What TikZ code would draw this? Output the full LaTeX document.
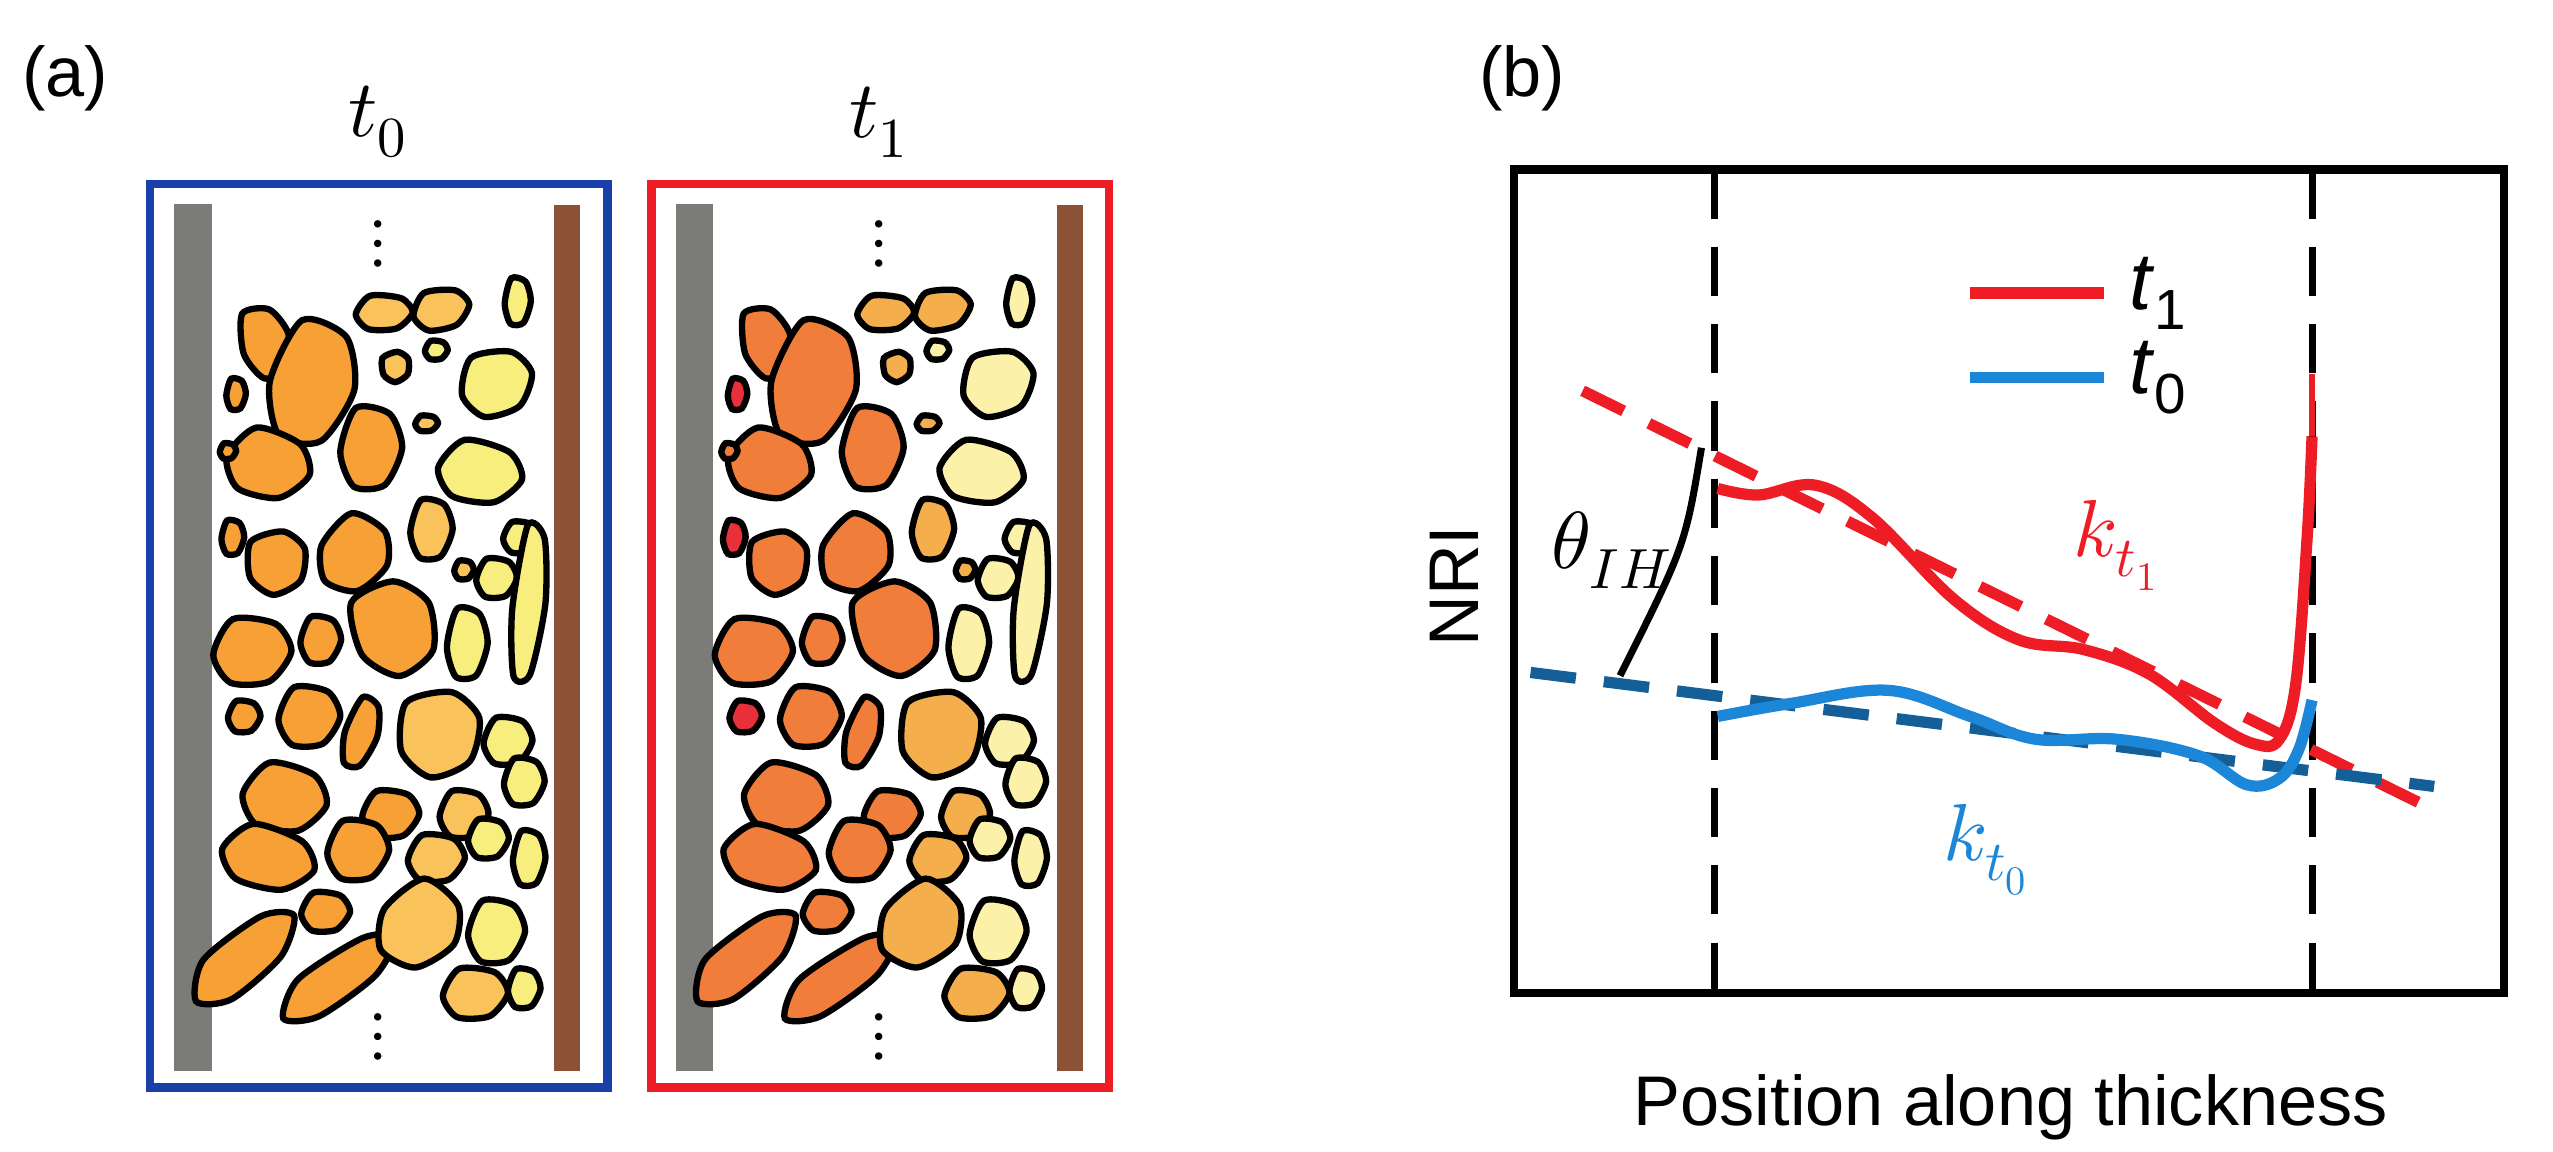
\documentclass[tikz,border=0pt]{standalone}
\usepackage{fontspec}
\setmainfont{Liberation Sans}
\usepackage{unicode-math}
\setmathfont{Latin Modern Math}
\definecolor{ob}{HTML}{F7A035}
\definecolor{ol}{HTML}{F9C25A}
\definecolor{yl}{HTML}{F7EE7E}
\definecolor{or}{HTML}{F07E3A}
\definecolor{om}{HTML}{F5AE4C}
\definecolor{yp}{HTML}{FBF1A8}
\definecolor{rd}{HTML}{E8303A}
\definecolor{gbar}{HTML}{7B7B78}
\definecolor{bbar}{HTML}{8B5236}
\definecolor{cred}{HTML}{EE1C25}
\definecolor{cblue}{HTML}{1C87D8}
\definecolor{dblue}{HTML}{1A3FA8}
\newcommand{\blob}[6]{\draw[line width=1.8pt,fill=#6,shift={(#1,#2)},rotate=#5] plot[smooth cycle,tension=0.45] coordinates {({0.5*#3},0) ({0.22*#3},{0.44*#4}) ({-0.28*#3},{0.46*#4}) ({-0.5*#3},{0.05*#4}) ({-0.25*#3},{-0.47*#4}) ({0.3*#3},{-0.4*#4})};}
\newcommand{\blobs}[5]{%
\blob{#1+163}{210}{30}{45}{20}{#2}
\blob{#1+192}{235}{52}{78}{-10}{#2}
\blob{#1+236}{192}{35}{22}{0}{#3}
\blob{#1+271}{190}{35}{25}{10}{#3}
\blob{#1+318}{185}{16}{30}{0}{#4}
\blob{#1+145}{242}{12}{20}{0}{#5}
\blob{#1+243}{225}{18}{18}{30}{#3}
\blob{#1+268}{215}{14}{12}{0}{#4}
\blob{#1+305}{235}{45}{40}{15}{#4}
\blob{#1+165}{285}{52}{42}{-15}{#2}
\blob{#1+228}{275}{38}{52}{0}{#2}
\blob{#1+295}{290}{52}{38}{-10}{#4}
\blob{#1+140}{277}{10}{10}{0}{#2}
\blob{#1+262}{260}{14}{10}{0}{#3}
\blob{#1+320}{330}{22}{20}{0}{#4}
\blob{#1+170}{345}{38}{38}{25}{#2}
\blob{#1+218}{340}{42}{48}{-20}{#2}
\blob{#1+265}{325}{26}{38}{0}{#3}
\blob{#1+305}{355}{25}{25}{0}{#4}
\blob{#1+143}{330}{14}{22}{0}{#5}
\blob{#1+155}{400}{48}{42}{0}{#2}
\blob{#1+197}{393}{25}{30}{0}{#2}
\blob{#1+242}{385}{52}{58}{35}{#2}
\blob{#1+287}{395}{25}{45}{0}{#4}
\blob{#1+325}{370}{20}{100}{-5}{#4}
\blob{#1+285}{350}{12}{12}{0}{#3}
\blob{#1+150}{440}{20}{20}{0}{#5}
\blob{#1+190}{440}{38}{38}{0}{#2}
\blob{#1+222}{450}{20}{45}{-15}{#2}
\blob{#1+270}{450}{52}{52}{20}{#3}
\blob{#1+312}{455}{30}{30}{0}{#4}
\blob{#1+175}{490}{52}{42}{-10}{#2}
\blob{#1+240}{500}{35}{30}{0}{#2}
\blob{#1+285}{500}{30}{30}{0}{#3}
\blob{#1+322}{480}{25}{30}{0}{#4}
\blob{#1+165}{527}{58}{38}{-15}{#2}
\blob{#1+220}{522}{38}{38}{0}{#2}
\blob{#1+268}{527}{35}{30}{0}{#3}
\blob{#1+300}{515}{25}{25}{0}{#4}
\blob{#1+325}{527}{20}{35}{0}{#4}
\blob{#1+150}{588}{80}{32}{40}{#2}
\blob{#1+200}{560}{30}{25}{0}{#2}
\blob{#1+208}{600}{85}{28}{35}{#2}
\blob{#1+258}{568}{48}{55}{-30}{#3}
\blob{#1+305}{572}{35}{40}{0}{#4}
\blob{#1+292}{610}{40}{32}{0}{#3}
\blob{#1+322}{607}{20}{25}{0}{#4}}
\begin{document}
\begin{tikzpicture}[x=0.01628cm,y=-0.01628cm,font=\fontsize{20}{24}\selectfont]
\useasboundingbox (0,0) rectangle (1568,707);
% panel a
\node (la) at (40,48) {(a)};
\node (t0) at (232,75) {\fontsize{23}{26}\selectfont$t_0$};
\node (t1) at (540,75) {\fontsize{23}{26}\selectfont$t_1$};
\draw[dblue,line width=2.4pt] (92,113) rectangle (373,668);
\draw[cred,line width=2.4pt] (400,113) rectangle (681,668);
\fill[gbar] (107,125) rectangle (130,658);
\fill[bbar] (340,126) rectangle (356,658);
\fill[gbar] (415,125) rectangle (438,658);
\fill[bbar] (649,126) rectangle (665,658);
\foreach \x in {232,540}{\node at (\x,150) {$\vdots$};\node at (\x,637) {$\vdots$};}
\blobs{0}{ob}{ol}{yl}{ob}
\blobs{308}{or}{om}{yp}{rd}
% panel b
\node (lb) at (935,48) {(b)};
\draw[line width=2.4pt] (930,104) rectangle (1538,610);
\draw[line width=2pt,dash pattern=on 14pt off 8pt] (1053,104) -- (1053,610) (1420,104) -- (1420,610);
\node[rotate=90] (nri) at (893,360) {NRI};
\node (pos) at (1235,680) {Position along thickness};
\draw[cred,line width=3.2pt] (1210,180) -- (1292,180);
\node[anchor=west] at (1300,180) {\fontsize{23}{26}\selectfont\textit{t}\textsubscript{1}};
\draw[cblue,line width=3.2pt] (1210,232) -- (1292,232);
\node[anchor=west] at (1300,232) {\fontsize{23}{26}\selectfont\textit{t}\textsubscript{0}};
\draw[cred,line width=3.2pt,dash pattern=on 13pt off 8pt] (972,240) -- (1500,500);
\draw[cblue!70!black,line width=3.2pt,dash pattern=on 13pt off 8pt] (940,413) -- (1495,483);
\draw[cred,line width=3.2pt] plot[smooth,tension=0.6] coordinates {(1055,300) (1080,304) (1115,298) (1150,318) (1200,368) (1240,393) (1280,399) (1320,414) (1360,444) (1385,457) (1400,454) (1410,420) (1417,330) (1420,268)};
\draw[cred,line width=1.5pt] (1420,268) -- (1420,230);
\draw[cblue,line width=3.2pt] plot[smooth,tension=0.6] coordinates {(1055,440) (1100,432) (1160,424) (1210,440) (1250,454) (1300,454) (1350,464) (1380,482) (1400,478) (1412,460) (1420,430)};
\node[cred] (kt1) at (1300,335) {\fontsize{23}{26}\selectfont$k_{t_1}$};
\node[cblue] (kt0) at (1220,522) {\fontsize{23}{26}\selectfont$k_{t_0}$};
\node (th) at (990,338) {\fontsize{23}{26}\selectfont$\theta_{IH}$};
\draw[line width=2pt] (1045,275) .. controls (1035,335) .. (995,415);
\end{tikzpicture}
\end{document}
